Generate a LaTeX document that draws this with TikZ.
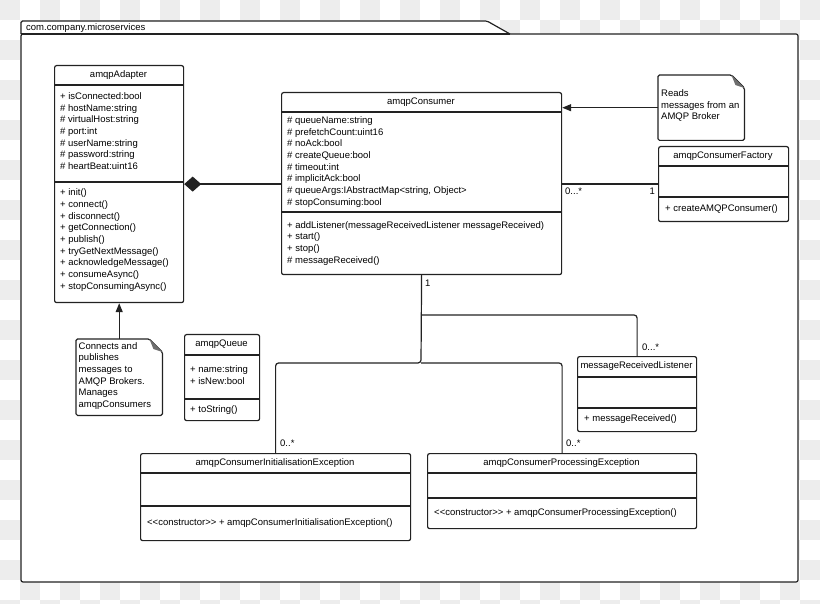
\documentclass[tikz,border=0pt]{standalone}
\usepackage{fontspec}
\setmainfont{Liberation Sans}
\usetikzlibrary{arrows.meta}
\definecolor{ln}{HTML}{222222}
\definecolor{chk}{HTML}{EDEDED}
\definecolor{fold}{HTML}{6E6E6E}
\newcommand\compline[2]{\draw[ln,line width=1.2pt] (#1.west |- 0,#2) -- (#1.east |- 0,#2);}
\newcommand\notebody[1]{%
  \draw[ln,line width=1.2pt,fill=white,rounded corners=1.5pt] (#1.south west) -- (#1.north west) -- ([xshift=-13pt]#1.north east) -- ([yshift=-13pt]#1.north east) -- (#1.south east) -- cycle;
  \fill[fold] ([xshift=-13pt]#1.north east) -- ([yshift=-13pt]#1.north east) -- ([xshift=-9pt,yshift=-10pt]#1.north east) -- cycle;}
\begin{document}
\begin{tikzpicture}[x=1pt,y=-1pt,
  box/.style={draw=ln,line width=1.2pt,rounded corners=2pt,fill=white,inner sep=0pt,anchor=north west},
  holder/.style={inner sep=0pt,anchor=north west},
  txt/.style={inner sep=0pt,font=\fontsize{9.5}{11.67}\selectfont,text=black},
  ml/.style={txt,align=left,anchor=north west,execute at begin node={\rule{0pt}{8pt}}},
  conn/.style={draw=ln,line width=1.2pt,rounded corners=3pt},
  tri/.style={conn,-{Triangle[length=9pt,width=7pt]}},
  comp/.style={conn,{Diamond[length=17pt,width=15pt]}-}]
\useasboundingbox (0,0) rectangle (820,604);
% background checkerboard
\foreach \i in {0,2,...,40}{\foreach \j in {0,2,...,30}{
  \fill[chk] (20*\i,20*\j) rectangle ++(20,20);
  \fill[chk] (20*\i+20,20*\j+20) rectangle ++(20,20);}}
% package frame
\draw[ln,line width=1.2pt,fill=white,rounded corners=1.5pt] (21,34) -- (21,21) -- (487,21) -- (510,34);
\draw[ln,line width=1.2pt,fill=white,rounded corners=2pt] (21,34) rectangle (798,582);
\draw[ln,line width=1.2pt] (21,34) -- (510,34);
\node[txt,anchor=base west] (pkg) at (26,31) {com.company.microservices};

% amqpAdapter
\node[box,minimum width=129pt,minimum height=237pt] (adapter) at (54,65) {};
\compline{adapter}{85}\compline{adapter}{182}
\node[txt,anchor=base] (adapterT) at (118.5,77.4) {amqpAdapter};
\node[ml] (adapterA) at (60,92.3) {+ isConnected:bool\\\# hostName:string\\\# virtualHost:string\\\# port:int\\\# userName:string\\\# password:string\\\# heartBeat:uint16};
\node[ml] (adapterM) at (60,188.6) {+ init()\\+ connect()\\+ disconnect()\\+ getConnection()\\+ publish()\\+ tryGetNextMessage()\\+ acknowledgeMessage()\\+ consumeAsync()\\+ stopConsumingAsync()};

% amqpConsumer
\node[box,minimum width=280pt,minimum height=182pt] (cons) at (281,92) {};
\compline{cons}{112}\compline{cons}{212}
\node[txt,anchor=base] (consT) at (421,104.4) {amqpConsumer};
\node[ml] (consA) at (287,116.3) {\# queueName:string\\\# prefetchCount:uint16\\\# noAck:bool\\\# createQueue:bool\\\# timeout:int\\\# implicitAck:bool\\\# queueArgs:IAbstractMap<string, Object>\\\# stopConsuming:bool};
\node[ml] (consM) at (287,221) {+ addListener(messageReceivedListener messageReceived)\\+ start()\\+ stop()\\\# messageReceived()};

% amqpConsumerFactory
\node[box,minimum width=130pt,minimum height=75pt] (fac) at (658,146) {};
\compline{fac}{166}\compline{fac}{197}
\node[txt,anchor=base] (facT) at (723,158.4) {amqpConsumerFactory};
\node[txt,anchor=base west] (facM) at (665,211.3) {+ createAMQPConsumer()};

% amqpQueue
\node[box,minimum width=75pt,minimum height=86pt] (queue) at (184,334) {};
\compline{queue}{355}\compline{queue}{399}
\node[txt,anchor=base] (queueT) at (221.5,346.4) {amqpQueue};
\node[ml] (queueA) at (190,365.3) {+ name:string\\+ isNew:bool};
\node[txt,anchor=base west] (queueM) at (190,412.3) {+ toString()};

% messageReceivedListener
\node[box,minimum width=119pt,minimum height=75pt] (listener) at (577,356) {};
\compline{listener}{377}\compline{listener}{408}
\node[txt,anchor=base] (listenerT) at (636.5,368.4) {messageReceivedListener};
\node[txt,anchor=base west] (listenerM) at (584,421.3) {+ messageReceived()};

% exceptions
\node[box,minimum width=270pt,minimum height=87pt] (initex) at (140,453) {};
\compline{initex}{473}\compline{initex}{506}
\node[txt,anchor=base] (initexT) at (275,465.3) {amqpConsumerInitialisationException};
\node[txt,anchor=base west] (initexM) at (147,525.3) {<{}<constructor>{}> + amqpConsumerInitialisationException()};

\node[box,minimum width=269pt,minimum height=75pt] (procex) at (427,453) {};
\compline{procex}{473}\compline{procex}{498}
\node[txt,anchor=base] (procexT) at (561.5,465.3) {amqpConsumerProcessingException};
\node[txt,anchor=base west] (procexM) at (434,515.3) {<{}<constructor>{}> + amqpConsumerProcessingException()};

% notes
\node[holder,minimum width=86pt,minimum height=65pt] (note1) at (658,75) {};
\notebody{note1}
\node[ml] (note1T) at (661,89.3) {Reads\\messages from an\\AMQP Broker};
\node[holder,minimum width=86pt,minimum height=76pt] (note2) at (76,339) {};
\notebody{note2}
\node[ml] (note2T) at (78.5,342) {Connects and\\publishes\\messages to\\AMQP Brokers.\\Manages\\amqpConsumers};

% connectors
\draw[comp] (adapter.east) -- (adapter.east -| cons.west);
\draw[conn] (fac.west) -- (fac.west -| cons.east);
\node[txt,anchor=base west] (m1) at (565,194.3) {0...*};
\node[txt,anchor=base east] (m2) at (655,194.3) {1};
\draw[tri] (note1.west) -- (note1.west -| cons.east);
\draw[tri] (note2.north) -- (note2.north |- adapter.south);

\coordinate (j1) at (421,315);
\coordinate (j2) at (421,363);
\draw[conn] (cons.south) -- (j2) -| (initex.north);
\draw[conn] (j1) -| (listener.north);
\draw[conn] (j2) -| (procex.north);
\node[txt,anchor=base west] (m3) at (425,286.3) {1};
\node[txt,anchor=base west] (m4) at (642,350) {0...*};
\node[txt,anchor=base west] (m5) at (280,446.3) {0..*};
\node[txt,anchor=base west] (m6) at (566,446.3) {0..*};
\end{tikzpicture}
\end{document}
